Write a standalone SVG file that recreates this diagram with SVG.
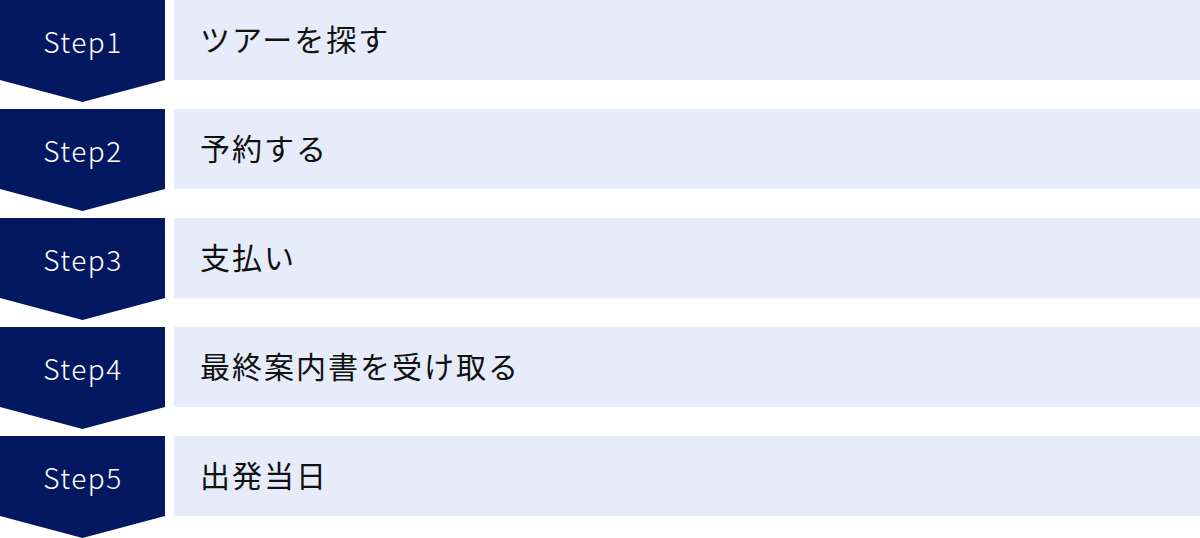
<svg xmlns="http://www.w3.org/2000/svg" width="1200" height="538" viewBox="0 0 1200 538">
<style>
.arrow{fill:#041862}
.bar{fill:#e6ecf9}
.step{font-family:"Noto Sans CJK JP","Noto Sans",sans-serif;font-size:28px;font-weight:300;fill:#ffffff;letter-spacing:1.5px;text-anchor:middle}
.lbl{font-family:"Noto Sans CJK JP",sans-serif;font-size:30px;font-weight:400;fill:#111111;letter-spacing:2px}
</style>
<defs>
<polygon id="chev" points="0,0 165,0 165,80 82.5,102 0,80"/>
</defs>
<rect width="1200" height="538" fill="#ffffff"/>
<g id="connectors"></g>
<g id="step1" transform="translate(0,0)">
<use href="#chev" class="arrow"/>
<rect class="bar" x="174" y="0" width="1026" height="80"/>
<text class="step" x="83" y="53">Step1</text>
<text class="lbl" x="200" y="51">ツアーを探す</text>
</g>
<g id="step2" transform="translate(0,109)">
<use href="#chev" class="arrow"/>
<rect class="bar" x="174" y="0" width="1026" height="80"/>
<text class="step" x="83" y="53">Step2</text>
<text class="lbl" x="200" y="51">予約する</text>
</g>
<g id="step3" transform="translate(0,218)">
<use href="#chev" class="arrow"/>
<rect class="bar" x="174" y="0" width="1026" height="80"/>
<text class="step" x="83" y="53">Step3</text>
<text class="lbl" x="200" y="51">支払い</text>
</g>
<g id="step4" transform="translate(0,327)">
<use href="#chev" class="arrow"/>
<rect class="bar" x="174" y="0" width="1026" height="80"/>
<text class="step" x="83" y="53">Step4</text>
<text class="lbl" x="200" y="51">最終案内書を受け取る</text>
</g>
<g id="step5" transform="translate(0,436)">
<use href="#chev" class="arrow"/>
<rect class="bar" x="174" y="0" width="1026" height="80"/>
<text class="step" x="83" y="53">Step5</text>
<text class="lbl" x="200" y="51">出発当日</text>
</g>
</svg>
